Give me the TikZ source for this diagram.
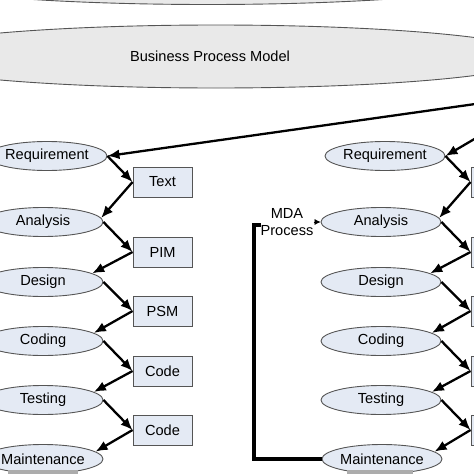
\documentclass[tikz,border=0pt]{standalone}
\usepackage{fontspec}
\setmainfont{Liberation Sans}
\usetikzlibrary{shapes.geometric,arrows.meta}
\definecolor{phasefill}{HTML}{E4EAF4}
\definecolor{phaseline}{HTML}{555555}
\definecolor{bigfill}{HTML}{E9E9E9}
\begin{document}
\begin{tikzpicture}[x=1pt,y=-1pt,
  font=\fontsize{14.6}{17}\selectfont,
  phase/.style={ellipse, draw=phaseline, fill=phasefill, line width=0.9pt,
    minimum width=120pt, minimum height=29pt, inner sep=0pt},
  artefact/.style={rectangle, draw=phaseline, fill=phasefill, line width=0.9pt,
    minimum width=59pt, minimum height=30pt, inner sep=0pt},
  bigell/.style={ellipse, draw=phaseline, fill=bigfill, line width=0.9pt,
    minimum width=648pt, minimum height=63pt, inner sep=0pt},
  conn/.style={line width=2.3pt, -{Latex[length=12pt,width=10pt]}},
  bracketline/.style={line width=3.4pt},
  shadowbar/.style={fill=gray!65, draw=none}
]
\useasboundingbox (0,0) rectangle (474,474);
\clip (0,0) rectangle (474,474);

% top ellipses
\node[bigell] (topell) at (208,-27) {};
\node[bigell] (bpm) at (216,56.5) {};
\node (bpmlabel) at (210,56) {Business Process Model};

% left column
\node[phase] (req) at (47,156) {Requirement};
\node[phase] (ana) at (43,222) {Analysis};
\node[phase] (des) at (43,282) {Design};
\node[phase] (cod) at (43,341) {Coding};
\node[phase] (tes) at (43,400) {Testing};
\node[phase] (mai) at (43,459) {Maintenance};

\node[artefact] (txt) at (162.5,182) {Text};
\node[artefact] (pim) at (162.5,252) {PIM};
\node[artefact] (psm) at (162.5,311) {PSM};
\node[artefact] (codeA) at (162.5,371) {Code};
\node[artefact] (codeB) at (162.5,430) {Code};

% right column
\node[phase] (rreq) at (385,156) {Requirement};
\node[phase] (rana) at (381,222) {Analysis};
\node[phase] (rdes) at (381,282) {Design};
\node[phase] (rcod) at (381,341) {Coding};
\node[phase] (rtes) at (381,400) {Testing};
\node[phase] (rmai) at (382,459) {Maintenance};

\node[artefact] (rtxt) at (500.5,182) {};
\node[artefact] (rpim) at (500.5,252) {};
\node[artefact] (rpsm) at (500.5,311) {};
\node[artefact] (rcodeA) at (500.5,371) {};
\node[artefact] (rcodeB) at (500.5,430) {};

% shadows of shapes below
\fill[shadowbar] (8,470) rectangle (78,474);
\fill[shadowbar] (347,470) rectangle (413,474);

% left connectors
\draw[conn] (req.east) -- (txt.west);
\draw[conn] (txt.west) -- (ana.4);
\draw[conn] (ana.east) -- (pim.west);
\draw[conn] (pim.west) -- (des.10);
\draw[conn] (des.east) -- (psm.west);
\draw[conn] (psm.west) -- (cod.9);
\draw[conn] (cod.east) -- (codeA.west);
\draw[conn] (codeA.west) -- (tes.9);
\draw[conn] (tes.east) -- (codeB.west);
\draw[conn] (codeB.west) -- (mai.8);

% right connectors
\draw[conn] (rreq.east) -- (rtxt.west);
\draw[conn] (rtxt.west) -- (rana.4);
\draw[conn] (rana.east) -- (rpim.west);
\draw[conn] (rpim.west) -- (rdes.10);
\draw[conn] (rdes.east) -- (rpsm.west);
\draw[conn] (rpsm.west) -- (rcod.9);
\draw[conn] (rcod.east) -- (rcodeA.west);
\draw[conn] (rcodeA.west) -- (rtes.9);
\draw[conn] (rtes.east) -- (rcodeB.west);
\draw[conn] (rcodeB.west) -- (rmai.8);

% incoming arrows from the right
\coordinate (srcA) at (500,100.5);
\coordinate (srcB) at (500,124);
\draw[conn] (srcA) -- (req.east);
\draw[conn] (srcB) -- (rreq.east);

% MDA process bracket
\node[align=center, inner sep=0pt] (mda) at (287,222) {MDA\\Process};
\draw[line width=0.6pt, -{Latex[length=6pt,width=6pt]}] (mda.east) -- (rana.west);
\coordinate (brtop) at (261,225);
\coordinate (brcorner) at (254,225);
\draw[bracketline] (brtop) -- (brcorner) |- (rmai.west);
\end{tikzpicture}
\end{document}
